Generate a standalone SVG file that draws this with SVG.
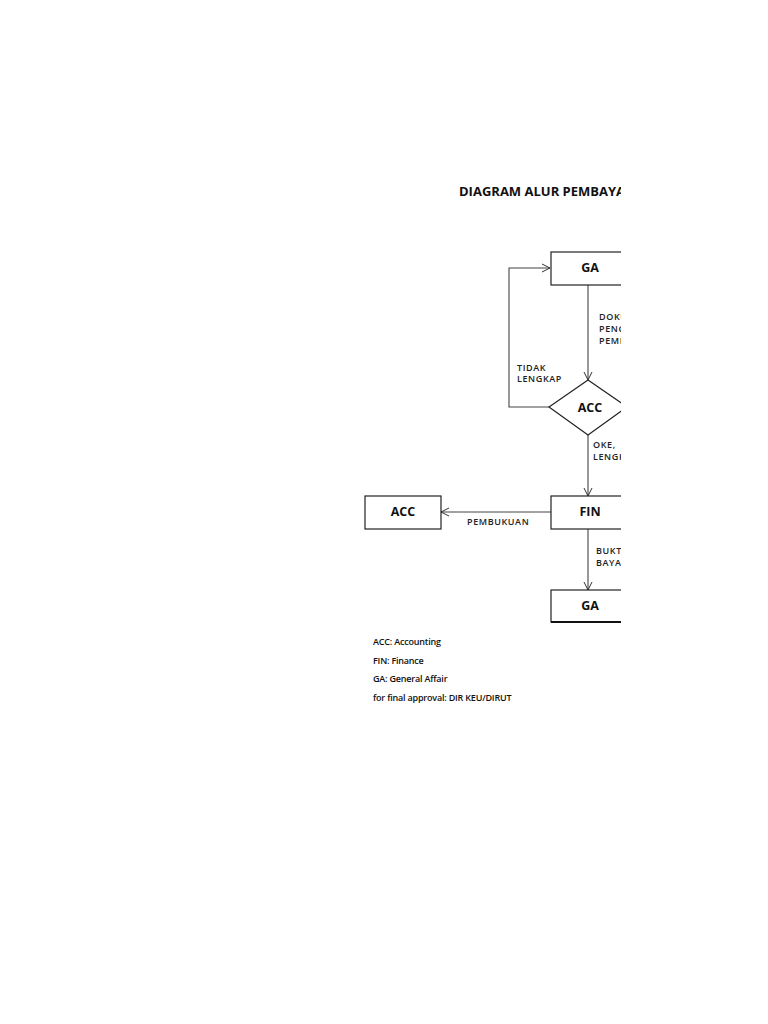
<svg xmlns="http://www.w3.org/2000/svg" width="768" height="1024" viewBox="0 0 768 1024">
<defs>
<clipPath id="page"><rect x="0" y="0" width="621" height="1024"/></clipPath>
<marker id="arr" markerWidth="10" markerHeight="10" refX="9" refY="5" orient="auto" markerUnits="userSpaceOnUse">
<path d="M1,1 L9,5 L1,9" fill="none" stroke="#333" stroke-width="1"/>
</marker>
<style>
.box{fill:#fff;stroke:#222;stroke-width:1.2}
.lbl{font-family:"Open Sans","Liberation Sans",sans-serif;font-weight:bold;font-size:12.5px;fill:#111;text-anchor:middle}
.sm{font-family:"Open Sans","Liberation Sans",sans-serif;font-weight:600;font-size:9px;fill:#222;letter-spacing:0.6px}
.leg{font-family:"Open Sans","Liberation Sans",sans-serif;font-weight:600;font-size:9px;fill:#111;letter-spacing:-0.2px}
.ln{fill:none;stroke:#444;stroke-width:1.1}
</style>
</defs>
<rect width="768" height="1024" fill="#fff"/>
<g clip-path="url(#page)">
<text x="459" y="196" font-family="'Open Sans','Liberation Sans',sans-serif" font-weight="bold" font-size="13" fill="#111">DIAGRAM ALUR PEMBAYA</text>
<g id="connectors">
<line class="ln" x1="588" y1="285" x2="588" y2="380" marker-end="url(#arr)"/>
<polyline class="ln" points="549,407 509,407 509,268 550,268" marker-end="url(#arr)"/>
<line class="ln" x1="588" y1="435" x2="588" y2="496" marker-end="url(#arr)"/>
<line class="ln" x1="551" y1="512" x2="441" y2="512" marker-end="url(#arr)"/>
<line class="ln" x1="588" y1="529" x2="588" y2="590" marker-end="url(#arr)"/>
<text class="sm" x="599" y="320">DOKU</text>
<text class="sm" x="599" y="332">PENG</text>
<text class="sm" x="599" y="344">PEMB</text>
<text class="sm" x="517" y="371">TIDAK</text>
<text class="sm" x="517" y="382">LENGKAP</text>
<text class="sm" x="593" y="448">OKE,</text>
<text class="sm" x="593" y="460">LENGK</text>
<text class="sm" x="467" y="525">PEMBUKUAN</text>
<text class="sm" x="596" y="554">BUKT</text>
<text class="sm" x="596" y="566">BAYAR</text>
</g>
<g id="ga-top">
<rect class="box" x="551" y="252" width="100" height="33"/>
<text class="lbl" x="590" y="272">GA</text>
</g>
<g id="acc-decision">
<polygon class="box" points="588,380 627,407 588,435 549,407"/>
<text class="lbl" x="590" y="412">ACC</text>
</g>
<g id="fin">
<rect class="box" x="551" y="496" width="100" height="33"/>
<text class="lbl" x="590" y="516">FIN</text>
</g>
<g id="acc-left">
<rect class="box" x="365" y="496" width="76" height="33"/>
<text class="lbl" x="403" y="516">ACC</text>
</g>
<g id="ga-bottom">
<rect class="box" x="551" y="590" width="100" height="32"/>
<line x1="551" y1="622" x2="621" y2="622" stroke="#111" stroke-width="2"/>
<text class="lbl" x="590" y="610">GA</text>
</g>
<g id="legend">
<text class="leg" x="373" y="645">ACC: Accounting</text>
<text class="leg" x="373" y="664">FIN: Finance</text>
<text class="leg" x="373" y="682">GA: General Affair</text>
<text class="leg" x="373" y="701">for final approval: DIR KEU/DIRUT</text>
</g>
</g>
</svg>
